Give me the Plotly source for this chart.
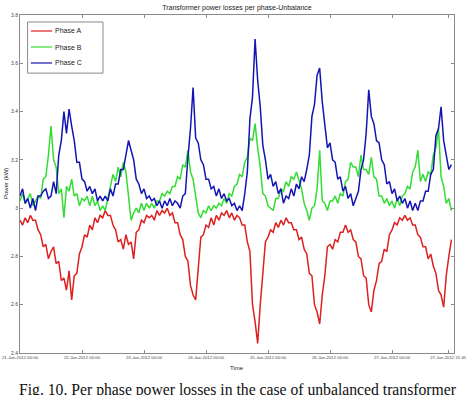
import pandas as pd
import plotly.graph_objects as go

# hourly samples, 21-Jan-2012 00:00 .. 27-Jan-2012 23:00
start = "2012-01-21 00:00"
n_hours = 168

phase_a = [
    2.95, 2.93, 2.96, 2.94, 2.97, 2.95, 2.95, 2.91, 2.89, 2.84, 2.85, 2.79, 2.82, 2.84, 2.77, 2.78,
    2.70, 2.71, 2.66, 2.74, 2.62, 2.72, 2.73, 2.81, 2.84, 2.89, 2.88, 2.93, 2.91, 2.96, 2.94, 2.97,
    2.96, 2.99, 2.97, 2.97, 2.93, 2.91, 2.86, 2.87, 2.83, 2.89, 2.85, 2.86, 2.79, 2.90, 2.91, 2.95,
    2.94, 2.97, 2.96, 2.97, 2.95, 2.99, 2.97, 2.99, 2.98, 3.00, 2.97, 2.98, 2.94, 2.94, 2.89, 2.87,
    2.80, 2.78, 2.68, 2.64, 2.62, 2.76, 2.88, 2.89, 2.93, 2.92, 2.96, 2.93, 2.97, 2.95, 2.98, 2.97,
    2.99, 2.96, 2.98, 2.95, 2.97, 2.96, 2.93, 2.93, 2.86, 2.82, 2.60, 2.53, 2.44, 2.60, 2.73, 2.86,
    2.88, 2.91, 2.90, 2.94, 2.92, 2.95, 2.93, 2.96, 2.94, 2.94, 2.91, 2.91, 2.87, 2.88, 2.83, 2.81,
    2.73, 2.72, 2.60, 2.57, 2.52, 2.64, 2.72, 2.84, 2.85, 2.83, 2.87, 2.86, 2.90, 2.90, 2.93, 2.90,
    2.91, 2.87, 2.86, 2.80, 2.79, 2.72, 2.71, 2.60, 2.57, 2.66, 2.70, 2.77, 2.78, 2.83, 2.82, 2.89,
    2.91, 2.94, 2.93, 2.96, 2.95, 2.97, 2.95, 2.96, 2.93, 2.93, 2.89, 2.88, 2.84, 2.84, 2.79, 2.81,
    2.76, 2.73, 2.66, 2.64, 2.59, 2.72, 2.80, 2.87,
]

phase_b = [
    3.03, 3.06, 3.02, 3.04, 3.06, 3.01, 3.03, 3.05, 3.04, 3.12, 3.13, 3.22, 3.34, 3.20, 3.17, 3.06,
    3.08, 2.96, 3.09, 3.07, 3.12, 3.05, 3.06, 3.01, 3.04, 3.03, 3.05, 3.01, 3.05, 3.01, 3.03, 2.99,
    3.01, 2.99, 3.04, 3.09, 3.14, 3.11, 3.17, 3.13, 3.19, 3.15, 3.06, 2.95, 2.98, 3.00, 2.98, 3.02,
    2.99, 3.02, 3.00, 3.02, 3.00, 3.03, 3.03, 3.06, 3.05, 3.07, 3.06, 3.09, 3.09, 3.13, 3.12, 3.18,
    3.17, 3.24, 3.15, 3.12, 3.05, 2.98, 2.96, 2.99, 2.98, 3.01, 2.99, 3.01, 3.00, 3.02, 3.01, 3.04,
    3.02, 3.06, 3.05, 3.09, 3.10, 3.14, 3.13, 3.19, 3.21, 3.29, 3.28, 3.35, 3.25, 3.17, 3.06, 3.05,
    3.01, 3.00, 2.99, 3.04, 3.04, 3.08, 3.07, 3.11, 3.09, 3.13, 3.12, 3.15, 3.11, 3.08, 3.02, 2.99,
    2.95, 3.00, 3.01, 3.08, 3.24, 3.03, 3.02, 2.99, 3.03, 3.03, 3.05, 3.02, 3.06, 3.05, 3.11, 3.12,
    3.19, 3.17, 3.17, 3.13, 3.22, 3.16, 3.16, 3.14, 3.21, 3.13, 3.12, 3.05, 3.05, 3.02, 3.04, 3.01,
    3.03, 3.00, 3.04, 3.01, 3.05, 3.06, 3.09, 3.08, 3.15, 3.17, 3.24, 3.11, 3.14, 3.11, 3.15, 3.14,
    3.22, 3.25, 3.33, 3.13, 3.09, 3.02, 3.04, 2.99,
]

phase_c = [
    3.05, 3.08, 3.02, 3.04, 3.00, 3.04, 2.99, 3.05, 3.05, 3.07, 3.08, 3.04, 3.05, 3.11, 3.06, 3.22,
    3.28, 3.40, 3.31, 3.41, 3.34, 3.28, 3.19, 3.19, 3.12, 3.11, 3.07, 3.09, 3.06, 3.08, 3.03, 3.05,
    3.03, 3.05, 3.03, 3.08, 3.05, 3.10, 3.10, 3.16, 3.16, 3.23, 3.28, 3.24, 3.20, 3.12, 3.10, 3.06,
    3.08, 3.04, 3.05, 3.03, 3.04, 3.01, 3.03, 3.00, 3.03, 3.01, 3.04, 3.01, 3.03, 3.02, 3.00, 3.05,
    3.06, 3.21, 3.33, 3.50, 3.29, 3.27, 3.20, 3.18, 3.12, 3.12, 3.08, 3.09, 3.05, 3.08, 3.04, 3.06,
    3.03, 3.04, 3.01, 3.02, 2.99, 3.01, 2.99, 3.06, 3.15, 3.37, 3.46, 3.70, 3.53, 3.42, 3.26, 3.20,
    3.12, 3.14, 3.09, 3.11, 3.06, 3.08, 3.02, 3.05, 3.04, 3.08, 3.05, 3.10, 3.08, 3.13, 3.11, 3.16,
    3.22, 3.38, 3.43, 3.55, 3.58, 3.44, 3.34, 3.25, 3.27, 3.20, 3.19, 3.12, 3.13, 3.07, 3.09, 3.04,
    3.06, 3.01, 3.04, 3.07, 3.16, 3.20, 3.31, 3.49, 3.38, 3.35, 3.28, 3.27, 3.20, 3.18, 3.10, 3.11,
    3.06, 3.08, 3.03, 3.05, 3.02, 3.04, 3.00, 3.03, 2.99, 3.02, 2.99, 3.03, 3.03, 3.07, 3.07, 3.14,
    3.16, 3.30, 3.33, 3.42, 3.28, 3.22, 3.16, 3.18,
]

series_names = ["Phase A", "Phase B", "Phase C"]
series_colors = ["#dd2020", "#33dd33", "#1414b4"]

y_ticks = [2.4, 2.6, 2.8, 3.0, 3.2, 3.4, 3.6, 3.8]
y_tick_text = ["2.4", "2.6", "2.8", "3", "3.2", "3.4", "3.6", "3.8"]
x_ticks = ["2012-01-21 00:00", "2012-01-22 00:00", "2012-01-23 00:00", "2012-01-24 00:00",
           "2012-01-25 00:00", "2012-01-26 00:00", "2012-01-27 00:00", "2012-01-27 21:45"]
x_tick_text = ["21-Jan-2012 00:00", "22-Jan-2012 00:00", "23-Jan-2012 00:00", "24-Jan-2012 00:00",
               "25-Jan-2012 00:00", "26-Jan-2012 00:00", "27-Jan-2012 00:00", "27-Jan-2012 21:45"]

times = pd.date_range(start, periods=n_hours, freq="h")

fig = go.Figure()
for name, vals, col in zip(series_names, [phase_a, phase_b, phase_c], series_colors):
    fig.add_trace(go.Scatter(x=times, y=vals, mode="lines", name=name, showlegend=False,
                             line=dict(color=col, width=1.5)))

axis_common = dict(showgrid=False, zeroline=False, showline=True, linecolor="#8a8a8a",
                   linewidth=1, mirror="allticks", ticks="inside", ticklen=3, automargin=False,
                   ticklabeloverflow="allow",
                   tickcolor="#8a8a8a", tickfont=dict(family="Liberation Sans", size=5, color="#444"))

# custom legend (paper coordinates inside the plot area)
legend_box = dict(x0=0.0175, x1=0.1912, y0=0.828, y1=0.9793)
legend_rows = [0.9527, 0.9053, 0.8580]
shapes = [dict(type="rect", xref="paper", yref="paper", line=dict(color="#8a8a8a", width=1),
               fillcolor="white", layer="above", **legend_box)]
annotations = []
for name, col, yy in zip(series_names, series_colors, legend_rows):
    shapes.append(dict(type="line", xref="paper", yref="paper", x0=0.025, x1=0.074, y0=yy, y1=yy,
                       line=dict(color=col, width=1.2), layer="above"))
    annotations.append(dict(text=name, xref="paper", yref="paper", x=0.076, y=yy, xanchor="left",
                            yanchor="middle", showarrow=False,
                            font=dict(size=7, color="#222", family="Liberation Sans")))

annotations += [
    dict(text="Time", xref="paper", yref="paper", x=0.5, y=0, yshift=-15,
         showarrow=False, font=dict(size=6, color="#222"), yanchor="middle"),
    dict(text="Power (kW)", xref="paper", yref="paper", x=0, y=0.5, xshift=-14,
         textangle=-90, showarrow=False, font=dict(size=6, color="#222"), xanchor="center"),
    dict(text="Fig. 10. Per phase power losses in the case of unbalanced transformer",
         xref="paper", yref="paper", x=0.502, y=0, yshift=-37, yanchor="middle",
         showarrow=False, font=dict(family="Liberation Serif", size=15.7, color="#111")),
]

fig.update_layout(
    width=474, height=395,
    margin=dict(l=20, r=20, t=15, b=42, autoexpand=False),
    paper_bgcolor="white", plot_bgcolor="white",
    font=dict(family="Liberation Sans", color="#222"),
    title=dict(text="Transformer power losses per phase-Unbalance", x=0.5, xanchor="center",
               xref="paper", y=0.982, yanchor="middle", font=dict(size=7, color="#222")),
    xaxis=dict(range=["2012-01-21 00:00", "2012-01-28 00:00"], tickvals=x_ticks,
               ticktext=x_tick_text, **axis_common),
    yaxis=dict(range=[2.4, 3.8], tickvals=y_ticks, ticktext=y_tick_text, **axis_common),
    showlegend=False,
    shapes=shapes,
    annotations=annotations,
)
fig.update_xaxes(tickfont=dict(size=4.3))

fig.write_html("out.html", config={"displayModeBar": False},
               post_script="document.body.style.margin='0px';document.body.style.overflow='hidden';")
